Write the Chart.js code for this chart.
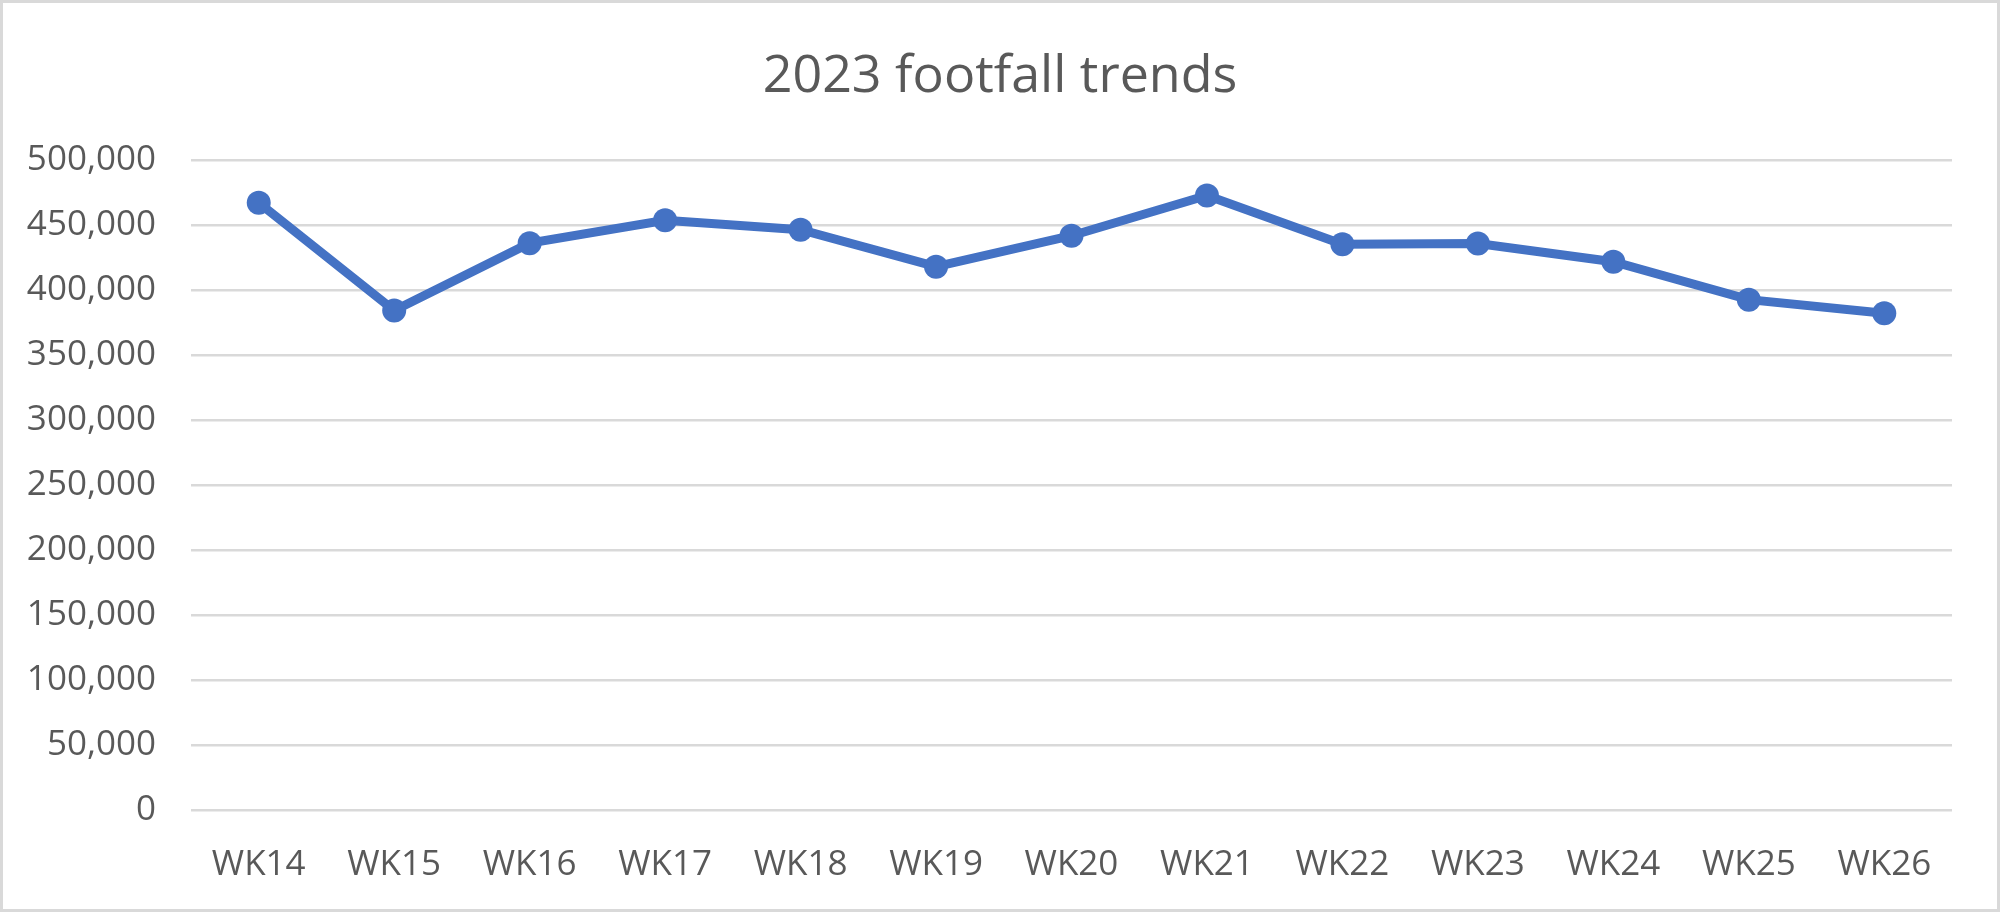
<!DOCTYPE html>
<html>
<head>
<meta charset="utf-8">
<script src="https://cdn.jsdelivr.net/npm/chart.js@4"></script>
<style>
  html, body { margin: 0; padding: 0; background: #fff; }
  #wrap { width: 2000px; height: 912px; position: relative; }
</style>
</head>
<body>
<div id="wrap"><canvas id="plot"></canvas></div>
<script>
const weeks = ['WK14', 'WK15', 'WK16', 'WK17', 'WK18', 'WK19', 'WK20',
               'WK21', 'WK22', 'WK23', 'WK24', 'WK25', 'WK26'];
const footfall = [467400, 384500, 436300, 453900, 446700, 418200, 442000,
                  473000, 435500, 436000, 422000, 392800, 382400];
const titleText = '2023 footfall trends';
const yMax = 500000;
const yStep = 50000;

const grey = '#595959';
const blue = '#4472C4';

// white card with a thin grey frame, like the spreadsheet chart
const frame = {
    id: 'frame',
    afterLayout(chart) {
        // centre the title on the whole card, not on the padded box
        if (chart.titleBlock) {
            chart.titleBlock.left = 0;
            chart.titleBlock.right = chart.width;
        }
    },
    beforeDraw(chart) {
        const c = chart.ctx;
        c.save();
        c.fillStyle = '#fff';
        c.fillRect(0, 0, chart.width, chart.height);
        c.restore();
    },
    afterDraw(chart) {
        const c = chart.ctx;
        c.save();
        c.strokeStyle = '#d9d9d9';
        c.lineWidth = 3;
        c.strokeRect(1.5, 1.5, chart.width - 3, chart.height - 3);
        c.restore();
    }
};

const ctx = document.getElementById('plot').getContext('2d');
new Chart(ctx, {
    type: 'line',
    data: {
        labels: weeks,
        datasets: [{
            label: 'Footfall',
            data: footfall,
            borderColor: blue,
            backgroundColor: blue,
            borderWidth: 9,
            pointRadius: 12,
            pointBorderWidth: 0,
            pointBackgroundColor: blue,
            tension: 0
        }]
    },
    options: {
        responsive: true,
        maintainAspectRatio: false,
        animation: false,
        layout: { padding: { left: 10, right: 48, top: 20, bottom: 0 } },
        plugins: {
            legend: { display: false },
            tooltip: { enabled: false },
            title: {
                display: true,
                text: titleText,
                color: grey,
                font: { family: 'Open Sans', size: 52, weight: 'normal' },
                padding: { top: 26, bottom: 52 }
            }
        },
        scales: {
            x: {
                offset: true,
                afterFit: s => { s.height = 102; },
                grid: { display: false, drawTicks: false },
                border: { display: false },
                ticks: {
                    color: grey,
                    padding: 34,
                    maxRotation: 0,
                    font: { family: 'Open Sans', size: 35 }
                }
            },
            y: {
                min: 0,
                max: yMax,
                afterFit: s => { s.width = 181; },
                grid: { color: '#d9d9d9', lineWidth: 2.6, drawTicks: false },
                border: { display: false },
                ticks: {
                    stepSize: yStep,
                    color: grey,
                    padding: 35,
                    font: { family: 'Open Sans', size: 35 },
                    callback: v => v.toLocaleString('en-US')
                }
            }
        }
    },
    plugins: [frame]
});
</script>
</body>
</html>
